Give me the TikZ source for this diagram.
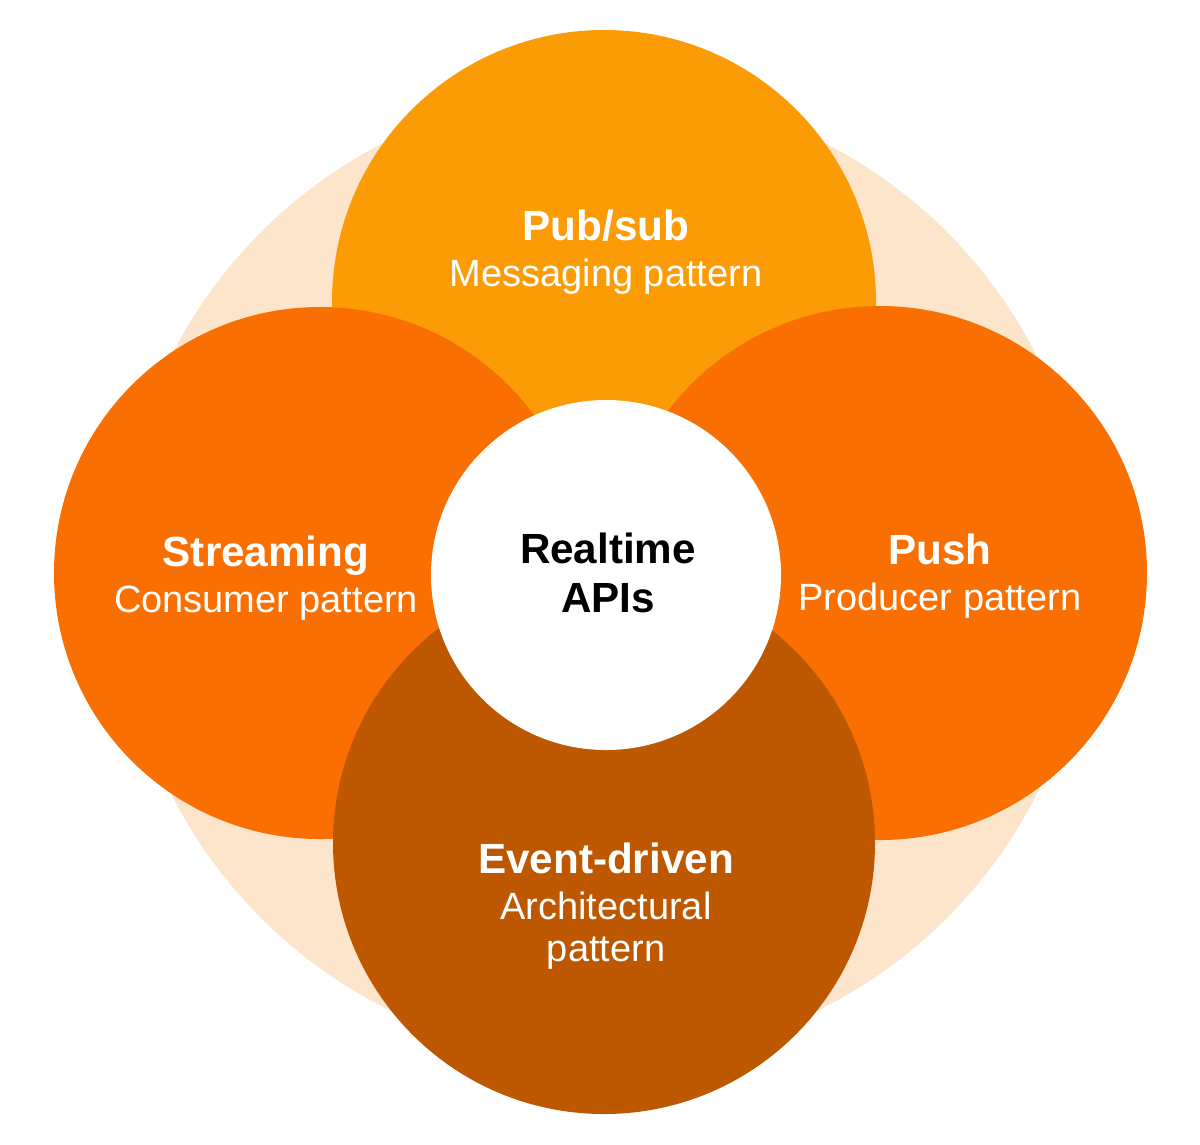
\documentclass[tikz,border=0pt]{standalone}
\usepackage{fontspec}
\setmainfont{Liberation Sans}
\definecolor{bg}{HTML}{FDE5CC}
\definecolor{topc}{HTML}{FB9C06}
\definecolor{side}{HTML}{FA6F02}
\definecolor{bot}{HTML}{BE5800}
\begin{document}
\begin{tikzpicture}[x=0.01cm,y=-0.01cm,
  lbl/.style={align=center,text=white}]
\useasboundingbox (0,0) rectangle (1200,1144);
\fill[bg] (604,575) circle (485);
\fill[topc] (604,302) circle (272);
\fill[side] (320,573) circle (266);
\fill[side] (880,573) circle (267);
\fill[bot] (604,843) circle (271);
\node[circle,fill=white,minimum size=350*0.01cm,inner sep=0] (c) at (606,575) {};
\node[lbl] (p) at (606,252) {{\fontsize{12pt}{14pt}\selectfont\bfseries Pub/sub}\\[1pt]{\fontsize{10.8pt}{13pt}\selectfont Messaging pattern}};
\node[lbl] (s) at (266,578) {{\fontsize{12pt}{14pt}\selectfont\bfseries Streaming}\\[1pt]{\fontsize{10.8pt}{13pt}\selectfont Consumer pattern}};
\node[lbl] (r) at (940,576) {{\fontsize{12pt}{14pt}\selectfont\bfseries Push}\\[1pt]{\fontsize{10.8pt}{13pt}\selectfont Producer pattern}};
\node[lbl] (e) at (606,906) {{\fontsize{12pt}{14pt}\selectfont\bfseries Event-driven}\\[1pt]{\fontsize{10.8pt}{13.5pt}\selectfont Architectural}\\{\fontsize{10.8pt}{13.5pt}\selectfont pattern}};
\node[align=center,font=\fontsize{12pt}{14pt}\selectfont\bfseries] (t) at (608,573) {Realtime\\APIs};
\end{tikzpicture}
\end{document}
